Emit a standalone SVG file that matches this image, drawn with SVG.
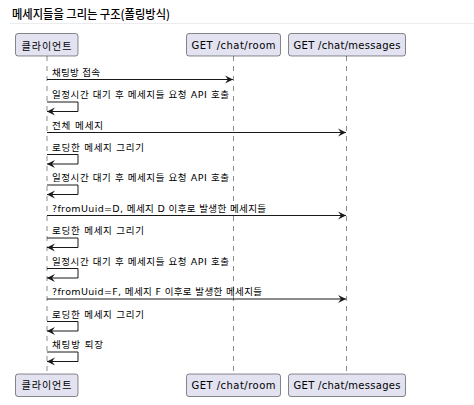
<svg xmlns="http://www.w3.org/2000/svg" width="474" height="405" viewBox="0 0 474 405">
<style>
.t{font-family:"DejaVu Sans","Noto Sans CJK KR",sans-serif;fill:#000}
.title{font-family:"Noto Sans CJK KR","DejaVu Sans",sans-serif;font-size:12px;font-weight:500;fill:#000}
.box{fill:#E2E2F0;stroke:#181818;stroke-width:0.5}
.pt{font-size:10px}
.mt{font-size:9.5px}
.life{stroke:#181818;stroke-width:0.5;stroke-dasharray:5,5;fill:none}
.msg{stroke:#181818;stroke-width:1;fill:none;marker-end:url(#ah)}
</style>
<defs>
<marker id="ah" markerUnits="userSpaceOnUse" markerWidth="10" markerHeight="10" viewBox="0 0 10 10" refX="9" refY="5" orient="auto">
<path d="M9,5 L1,1 L4,5 L1,9 Z" fill="#181818"/>
</marker>
</defs>
<rect width="474" height="405" fill="#fff"/>
<text class="title" x="12" y="19" textLength="158" lengthAdjust="spacingAndGlyphs">메세지들을 그리는 구조(폴링방식)</text>
<line x1="10" y1="23.5" x2="474" y2="23.5" stroke="#ececec" stroke-width="1"/>
<g id="lifelines">
<line class="life" x1="47" y1="56" x2="47" y2="374"/>
<line class="life" x1="233.5" y1="56" x2="233.5" y2="374"/>
<line class="life" x1="346.5" y1="56" x2="346.5" y2="374"/>
</g>
<g id="client">
<rect class="box" x="15.5" y="33.5" width="62.5" height="22.5" rx="2.5"/>
<text class="t pt" x="21.5" y="49.5" textLength="50" lengthAdjust="spacing">클라이언트</text>
<rect class="box" x="15.5" y="374" width="62.5" height="22.5" rx="2.5"/>
<text class="t pt" x="21.5" y="389" textLength="50" lengthAdjust="spacing">클라이언트</text>
</g>
<g id="room">
<rect class="box" x="186.5" y="33.5" width="94" height="22.5" rx="2.5"/>
<text class="t pt" x="191.5" y="49" textLength="84" lengthAdjust="spacing">GET /chat/room</text>
<rect class="box" x="186.5" y="374" width="94" height="22.5" rx="2.5"/>
<text class="t pt" x="191.5" y="389" textLength="84" lengthAdjust="spacing">GET /chat/room</text>
</g>
<g id="messages">
<rect class="box" x="288.5" y="33.5" width="117" height="22.5" rx="2.5"/>
<text class="t pt" x="293.5" y="49" textLength="107" lengthAdjust="spacing">GET /chat/messages</text>
<rect class="box" x="288.5" y="374" width="117" height="22.5" rx="2.5"/>
<text class="t pt" x="293.5" y="389" textLength="107" lengthAdjust="spacing">GET /chat/messages</text>
</g>
<g id="connectors">
<line class="msg" x1="47" y1="79.5" x2="233" y2="79.5"/>
<polyline class="msg" points="47,102 78,102 78,111.5 47,111.5"/>
<line class="msg" x1="47" y1="132.5" x2="346" y2="132.5"/>
<polyline class="msg" points="47,154.5 78,154.5 78,164 47,164"/>
<polyline class="msg" points="47,185 78,185 78,194.5 47,194.5"/>
<line class="msg" x1="47" y1="215.5" x2="346" y2="215.5"/>
<polyline class="msg" points="47,238 78,238 78,247.5 47,247.5"/>
<polyline class="msg" points="47,268.5 78,268.5 78,278 47,278"/>
<line class="msg" x1="47" y1="299" x2="346" y2="299"/>
<polyline class="msg" points="47,321.5 78,321.5 78,331 47,331"/>
<polyline class="msg" points="47,352 78,352 78,361.5 47,361.5"/>
</g>
<g id="labels">
<text class="t mt" x="52" y="75.5" textLength="48" lengthAdjust="spacing">채팅방 접속</text>
<text class="t mt" x="52" y="98" textLength="177" lengthAdjust="spacing">일정시간 대기 후 메세지들 요청 API 호출</text>
<text class="t mt" x="52" y="128.5" textLength="51" lengthAdjust="spacing">전체 메세지</text>
<text class="t mt" x="52" y="150.5" textLength="92" lengthAdjust="spacing">로딩한 메세지 그리기</text>
<text class="t mt" x="52" y="181" textLength="177" lengthAdjust="spacing">일정시간 대기 후 메세지들 요청 API 호출</text>
<text class="t mt" x="52" y="211.5" textLength="214" lengthAdjust="spacing">?fromUuid=D, 메세지 D 이후로 발생한 메세지들</text>
<text class="t mt" x="52" y="234" textLength="92" lengthAdjust="spacing">로딩한 메세지 그리기</text>
<text class="t mt" x="52" y="264.5" textLength="177" lengthAdjust="spacing">일정시간 대기 후 메세지들 요청 API 호출</text>
<text class="t mt" x="52" y="295" textLength="210" lengthAdjust="spacing">?fromUuid=F, 메세지 F 이후로 발생한 메세지들</text>
<text class="t mt" x="52" y="317.5" textLength="92" lengthAdjust="spacing">로딩한 메세지 그리기</text>
<text class="t mt" x="52" y="348" textLength="51" lengthAdjust="spacing">채팅방 퇴장</text>
</g>
</svg>
